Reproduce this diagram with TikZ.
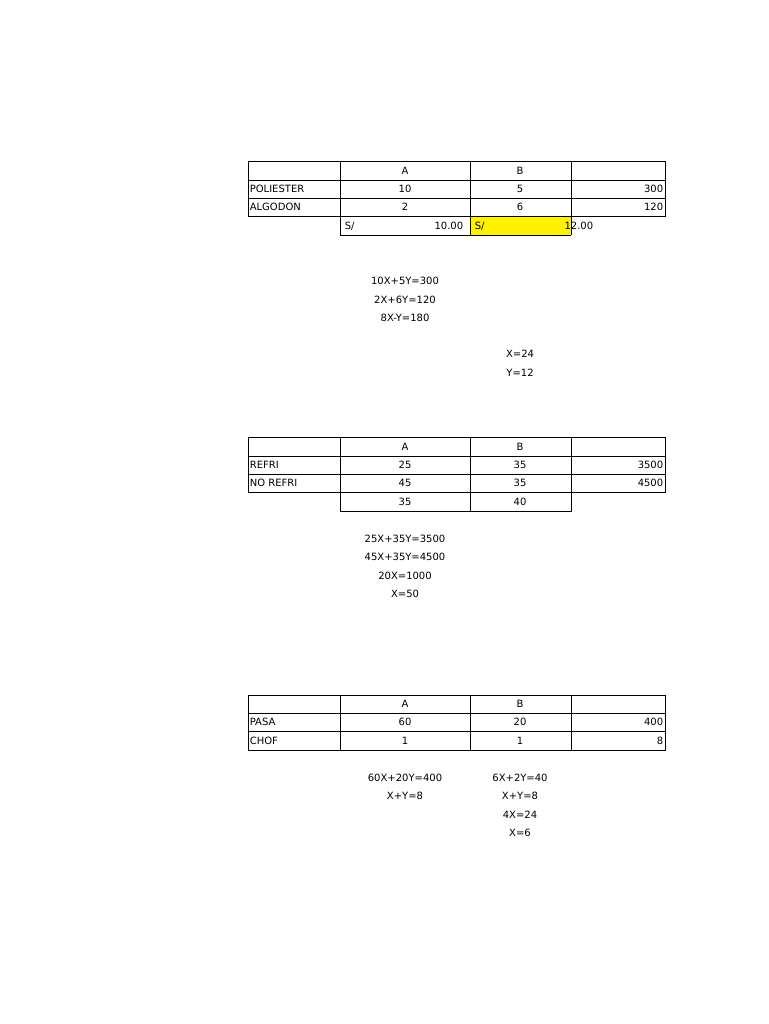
\documentclass[tikz,border=0pt]{standalone}
\usepackage{fontspec}
\setmainfont{DejaVu Sans}
\begin{document}
\begin{tikzpicture}[x=1pt,y=-1pt,line width=0.6pt,
  t/.style={inner sep=1.5pt,font=\fontsize{10}{12}\selectfont},
  c/.style={t,anchor=center},
  l/.style={t,anchor=west},
  r/.style={t,anchor=east}]
\useasboundingbox (0,0) rectangle (768,1024);
% Table 1
\fill[yellow] (470,216) rectangle (571,235);
\draw (248,161) rectangle (665,216);
\draw (248,180) -- (665,180) (248,198) -- (665,198);
\draw (340,161) -- (340,235) (470,161) -- (470,235) (571,161) -- (571,235);
\draw (340,235) -- (571,235);
\node[c] (a1) at (405,171) {A}; \node[c] (b1) at (520,171) {B};
\node[l] (p) at (248,189) {POLIESTER}; \node[c] at (405,189) {10}; \node[c] at (520,189) {5}; \node[r] at (665,189) {300};
\node[l] (al) at (248,207) {ALGODON}; \node[c] at (405,207) {2}; \node[c] at (520,207) {6}; \node[r] at (665,207) {120};
\node[l] at (343,226) {S/}; \node[r] at (465,226) {10.00};
\node[l] at (473,226) {S/}; \node[r] at (595,226) {12.00};
\node[c] at (405,281) {10X+5Y=300};
\node[c] at (405,300) {2X+6Y=120};
\node[c] at (405,318) {8X-Y=180};
\node[c] at (520,354) {X=24};
\node[c] at (520,373) {Y=12};
% Table 2
\draw (248,437) rectangle (665,492);
\draw (248,456) -- (665,456) (248,474) -- (665,474);
\draw (340,437) -- (340,511) (470,437) -- (470,511) (571,437) -- (571,492);
\draw (340,511) -- (470,511);
\draw (470,492) -- (571,492) -- (571,511) -- (470,511);
\node[c] at (405,447) {A}; \node[c] at (520,447) {B};
\node[l] at (248,465) {REFRI}; \node[c] at (405,465) {25}; \node[c] at (520,465) {35}; \node[r] at (665,465) {3500};
\node[l] at (248,483) {NO REFRI}; \node[c] at (405,483) {45}; \node[c] at (520,483) {35}; \node[r] at (665,483) {4500};
\node[c] at (405,502) {35}; \node[c] at (520,502) {40};
\node[c] at (405,539) {25X+35Y=3500};
\node[c] at (405,557) {45X+35Y=4500};
\node[c] at (405,576) {20X=1000};
\node[c] at (405,594) {X=50};
% Table 3
\draw (248,695) rectangle (665,750);
\draw (248,713) -- (665,713) (248,731) -- (665,731);
\draw (340,695) -- (340,750) (470,695) -- (470,750) (571,695) -- (571,750);
\node[c] at (405,704) {A}; \node[c] at (520,704) {B};
\node[l] at (248,722) {PASA}; \node[c] at (405,722) {60}; \node[c] at (520,722) {20}; \node[r] at (665,722) {400};
\node[l] at (248,741) {CHOF}; \node[c] at (405,741) {1}; \node[c] at (520,741) {1}; \node[r] at (665,741) {8};
\node[c] at (405,778) {60X+20Y=400};
\node[c] at (405,796) {X+Y=8};
\node[c] at (520,778) {6X+2Y=40};
\node[c] at (520,796) {X+Y=8};
\node[c] at (520,815) {4X=24};
\node[c] at (520,833) {X=6};
\end{tikzpicture}
\end{document}
